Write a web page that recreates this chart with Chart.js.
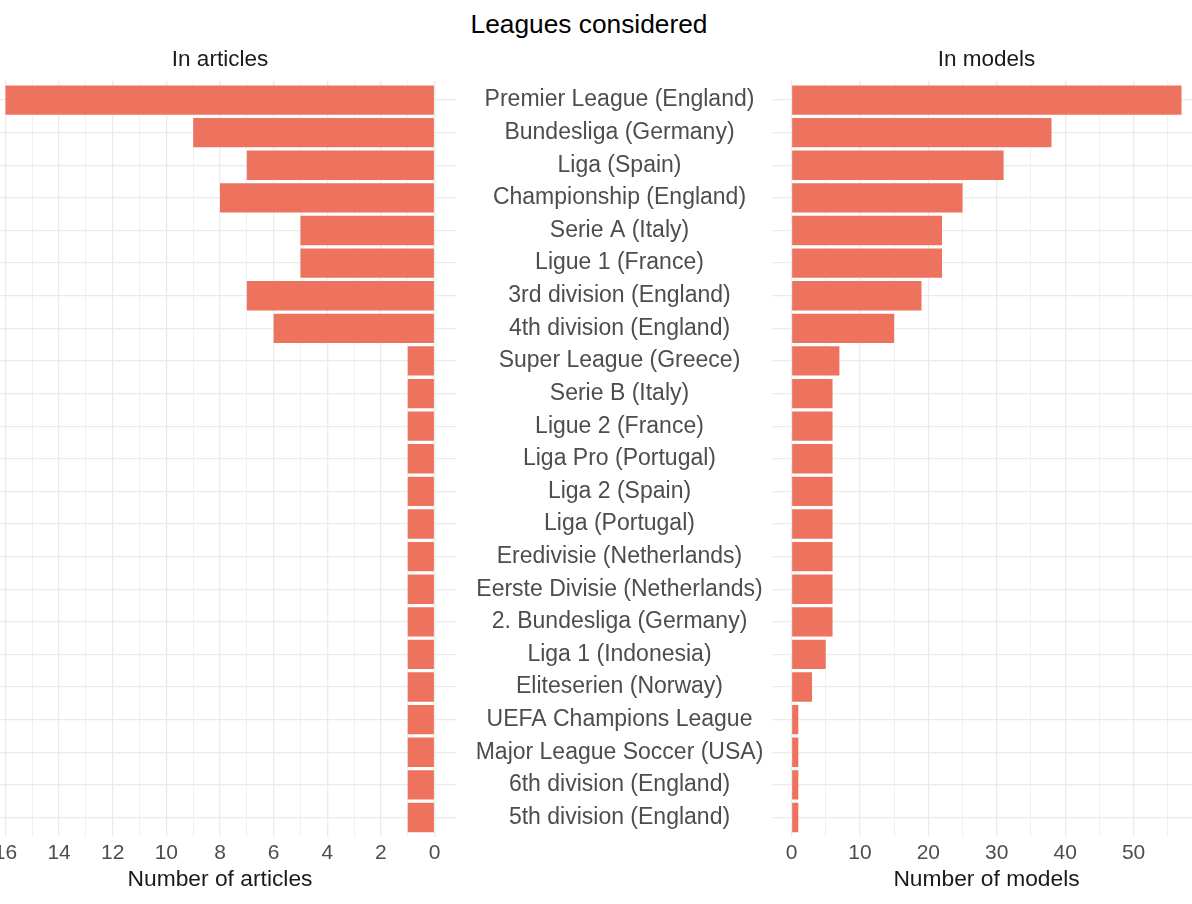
<!DOCTYPE html>
<html>
<head>
<meta charset="utf-8">
<title>Leagues considered</title>
<script src="https://cdn.jsdelivr.net/npm/chart.js@4.4.1/dist/chart.umd.min.js"></script>
<style>
  html, body { margin: 0; padding: 0; background: #fff; }
  body { width: 1192px; height: 904px; overflow: hidden; position: relative; font-family: 'Liberation Sans', Arial, sans-serif; }
  #title { position: absolute; left: 0; width: 1178px; top: 8px; text-align: center; font-size: 26.3px; line-height: 32px; color: #000; }
  .panel { position: absolute; top: 0; height: 904px; }
  #left { left: -16px; width: 472px; }
  #right { left: 456px; width: 745px; }
</style>
</head>
<body>
<div id="title">Leagues considered</div>
<div class="panel" id="left"><canvas id="articlesChart"></canvas></div>
<div class="panel" id="right"><canvas id="modelsChart"></canvas></div>
<script>
const leagues = [
    'Premier League (England)', 'Bundesliga (Germany)', 'Liga (Spain)', 'Championship (England)',
    'Serie A (Italy)', 'Ligue 1 (France)', '3rd division (England)', '4th division (England)',
    'Super League (Greece)', 'Serie B (Italy)', 'Ligue 2 (France)', 'Liga Pro (Portugal)',
    'Liga 2 (Spain)', 'Liga (Portugal)', 'Eredivisie (Netherlands)', 'Eerste Divisie (Netherlands)',
    '2. Bundesliga (Germany)', 'Liga 1 (Indonesia)', 'Eliteserien (Norway)', 'UEFA Champions League',
    'Major League Soccer (USA)', '6th division (England)', '5th division (England)'
];
const articleCounts = [16, 9, 7, 8, 5, 5, 7, 6, 1, 1, 1, 1, 1, 1, 1, 1, 1, 1, 1, 1, 1, 1, 1];
const modelCounts = [57, 38, 31, 25, 22, 22, 19, 15, 7, 6, 6, 6, 6, 6, 6, 6, 6, 5, 3, 1, 1, 1, 1];

const articleTicks = [0, 2, 4, 6, 8, 10, 12, 14, 16];
const articleMinor = [1, 3, 5, 7, 9, 11, 13, 15];
const modelTicks = [0, 10, 20, 30, 40, 50];
const modelMinor = [5, 15, 25, 35, 45, 55];

const fontFamily = "'Liberation Sans', Arial, sans-serif";
const gridColor = '#EBEBEB';
const barColor = '#ED735F';
const labelColor = '#4D4D4D';
const titleColor = '#1A1A1A';

// category axis with ggplot's discrete expansion (0.6 step at each end)
class PaddedCategoryScale extends Chart.CategoryScale {
    buildTicks() {
        const ticks = super.buildTicks();
        this._startValue = this.min - 0.6;
        this._valueRange = (this.max - this.min) + 1.2;
        return ticks;
    }
    configure() {
        super.configure();
        this._startValue = this.min - 0.6;
        this._valueRange = (this.max - this.min) + 1.2;
    }
}
PaddedCategoryScale.id = 'paddedCategory';
PaddedCategoryScale.defaults = Chart.CategoryScale.defaults;
Chart.register(PaddedCategoryScale);

function valueAxis(major, minor, maxVal, reverse, titleText) {
    const pad = maxVal * 0.05;
    return {
        type: 'linear',
        reverse: reverse,
        min: -pad,
        max: maxVal + pad,
        afterBuildTicks: s => { s.ticks = major.concat(minor).sort((a, b) => a - b).map(v => ({ value: v })); },
        ticks: {
            callback: v => major.includes(v) ? v : '',
            color: labelColor,
            font: { size: 21, family: fontFamily },
            padding: 3.3,
            autoSkip: false,
            maxRotation: 0
        },
        grid: {
            color: gridColor,
            lineWidth: ctx => major.includes(ctx.tick.value) ? 1.3 : 0.7,
            drawTicks: false
        },
        border: { display: false },
        title: { display: true, text: titleText, color: titleColor, font: { size: 22.8, family: fontFamily }, padding: { top: -3.2, bottom: 0 } }
    };
}

function categoryAxis(showLabels) {
    return {
        type: 'paddedCategory',
        ticks: {
            display: showLabels,
            color: labelColor,
            font: { size: 23, family: fontFamily },
            crossAlign: 'center',
            padding: 8.7,
            autoSkip: false
        },
        grid: { color: gridColor, lineWidth: 1.3, offset: false, drawTicks: false },
        border: { display: false },
        afterFit: s => { s.width = showLabels ? 316 : 0; }
    };
}

function makeChart(canvasId, values, xAxis, showLabels, subtitle) {
    const ctx = document.getElementById(canvasId).getContext('2d');
    return new Chart(ctx, {
        type: 'bar',
        data: {
            labels: leagues,
            datasets: [
                { data: values, backgroundColor: barColor, borderWidth: 0, barPercentage: 0.9, categoryPercentage: 1 }
            ]
        },
        options: {
            indexAxis: 'y',
            responsive: true,
            maintainAspectRatio: false,
            animation: false,
            layout: { padding: { top: 45.8, bottom: 11, left: 0, right: 0 } },
            scales: { x: xAxis, y: categoryAxis(showLabels) },
            plugins: {
                legend: { display: false },
                tooltip: { enabled: false },
                title: {
                    display: true,
                    text: subtitle,
                    fullSize: false,
                    color: titleColor,
                    font: { size: 22.5, family: fontFamily, weight: 'normal' },
                    padding: { top: 0, bottom: 7.7 }
                }
            }
        }
    });
}

makeChart('articlesChart', articleCounts,
    valueAxis(articleTicks, articleMinor, Math.max(...articleCounts), true, 'Number of articles'), false, 'In articles');
makeChart('modelsChart', modelCounts,
    valueAxis(modelTicks, modelMinor, Math.max(...modelCounts), false, 'Number of models'), true, 'In models');
</script>
</body>
</html>
